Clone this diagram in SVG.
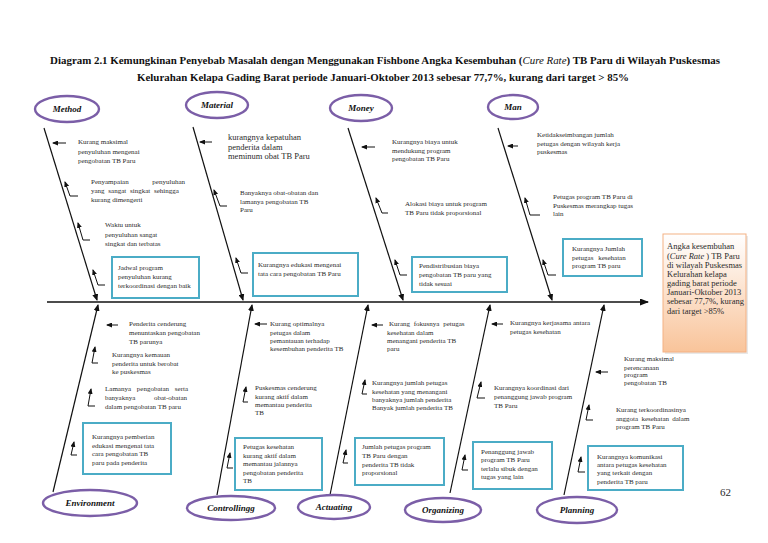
<svg xmlns="http://www.w3.org/2000/svg" width="768" height="543" viewBox="0 0 768 543">
<style>
text{font-family:"Liberation Serif","Times New Roman",serif;fill:#2a2a2a}
.t{font-size:7px}
.m{font-size:8.5px}
.title{font-size:10.9px;font-weight:bold;fill:#111}
.lab{font-size:9px;font-weight:bold;font-style:italic;text-anchor:middle;fill:#111}
.cat{fill:#fff;stroke:#7B5EA7;stroke-width:2.4}
.box{fill:#fff;stroke:#4BACC6;stroke-width:2}
.bone{stroke:#111;stroke-width:1.2;fill:none;marker-end:url(#ah)}
.sub{stroke:#111;stroke-width:1;fill:none;marker-end:url(#ah2)}
</style>
<defs>
<marker id="ah" markerUnits="userSpaceOnUse" markerWidth="7" markerHeight="6" refX="6" refY="3" orient="auto"><path d="M0,0 L7,3 L0,6 z" fill="#111"/></marker>
<marker id="ah2" markerUnits="userSpaceOnUse" markerWidth="6" markerHeight="5" refX="5" refY="2.5" orient="auto"><path d="M0,0 L6,2.5 L0,5 z" fill="#111"/></marker>
<marker id="ah3" markerUnits="userSpaceOnUse" markerWidth="9" markerHeight="7" refX="8" refY="3.5" orient="auto"><path d="M0,0 L9,3.5 L0,7 z" fill="#111"/></marker>
<linearGradient id="og" x1="0" y1="0" x2="0" y2="1"><stop offset="0" stop-color="#ffffff"/><stop offset="1" stop-color="#F9C49A"/></linearGradient>
</defs>
<rect width="768" height="543" fill="#fff"/>
<text class="title" x="385" y="64" text-anchor="middle">Diagram 2.1 Kemungkinan Penyebab Masalah dengan Menggunakan Fishbone Angka Kesembuhan  (<tspan font-style="italic" font-weight="normal">Cure Rate</tspan>) TB Paru di Wilayah Puskesmas</text>
<text class="title" x="383" y="81" text-anchor="middle">Kelurahan Kelapa Gading Barat periode Januari-Oktober 2013 sebesar 77,7%, kurang dari target &gt; 85%</text>

<g id="connectors">
<path d="M47 302 H648" stroke="#111" stroke-width="1.5" fill="none" marker-end="url(#ah3)"/>
<path class="bone" d="M44 128 L97 300"/>
<path class="bone" d="M193 127 L243 300"/>
<path class="bone" d="M348 128 L403 300"/>
<path class="bone" d="M498 128 L552 300"/>
<path class="bone" d="M53 492 L98 305"/>
<path class="bone" d="M217 495 L252 305"/>
<path class="bone" d="M330 495 L368 305"/>
<path class="bone" d="M450 493 L490 305"/>
<path class="bone" d="M564 495 L604 305"/>
<path class="sub" d="M66 143 H53"/>
<path class="sub" d="M212 142 H200"/>
<path class="sub" d="M375 147 H362"/>
<path class="sub" d="M518 146 H508"/>
<path class="sub" d="M118 325 H107"/>
<path class="sub" d="M267 324 H255"/>
<path class="sub" d="M383 325 H372"/>
<path class="sub" d="M503 324 H492"/>
<path class="sub" d="M608 372 H596"/>
<path class="sub" d="M78 196 H70 L65 182"/>
<path class="sub" d="M90 240 H83 L78 223"/>
<path class="sub" d="M105 285 H98 L93 270"/>
<path class="sub" d="M227 206 H220 L214 190"/>
<path class="sub" d="M248 273 H241 L236 258"/>
<path class="sub" d="M388 213 H382 L376 198"/>
<path class="sub" d="M407 275 H400 L395 260"/>
<path class="sub" d="M540 215 H530 L525 198"/>
<path class="sub" d="M556 275 H548 L543 260"/>
<path class="sub" d="M98 363 H92 L95 347"/>
<path class="sub" d="M95 406 H88 L91 389"/>
<path class="sub" d="M77 455 H71 L74 442"/>
<path class="sub" d="M248 402 H243 L246 387"/>
<path class="sub" d="M233 468 H227 L230 453"/>
<path class="sub" d="M367 394 H362 L365 380"/>
<path class="sub" d="M348 463 H343 L346 450"/>
<path class="sub" d="M485 398 H477 L481 382"/>
<path class="sub" d="M468 470 H462 L465 455"/>
<path class="sub" d="M593 420 H586 L589 405"/>
<path class="sub" d="M585 472 H578 L581 457"/>
</g>

<g id="cat-method"><ellipse class="cat" cx="67" cy="109" rx="32" ry="13"/><text class="lab" x="67" y="112">Method</text></g>
<g id="cat-material"><ellipse class="cat" cx="217" cy="105" rx="31" ry="13"/><text class="lab" x="217" y="108">Material</text></g>
<g id="cat-money"><ellipse class="cat" cx="361" cy="108" rx="31" ry="13"/><text class="lab" x="361" y="111">Money</text></g>
<g id="cat-man"><ellipse class="cat" cx="513" cy="107" rx="25" ry="12"/><text class="lab" x="513" y="110">Man</text></g>
<g id="cat-environment"><ellipse class="cat" cx="90" cy="503" rx="47" ry="13"/><text class="lab" x="90" y="506">Environment</text></g>
<g id="cat-controlling"><ellipse class="cat" cx="231" cy="508" rx="44" ry="12"/><text class="lab" x="231" y="511">Controllingg</text></g>
<g id="cat-actuating"><ellipse class="cat" cx="334" cy="507" rx="36" ry="12"/><text class="lab" x="334" y="510">Actuating</text></g>
<g id="cat-organizing"><ellipse class="cat" cx="443" cy="510" rx="38" ry="12"/><text class="lab" x="443" y="513">Organizing</text></g>
<g id="cat-planning"><ellipse class="cat" cx="577" cy="510" rx="40" ry="13"/><text class="lab" x="577" y="513">Planning</text></g>

<g id="effect">
<rect x="665" y="236" width="83" height="118" fill="#d8d8d8" opacity="0.6"/>
<rect x="663" y="234" width="83" height="118" fill="url(#og)" stroke="#F4B183" stroke-width="1"/>
<text class="m" x="667"><tspan x="667" y="249">Angka kesembuhan</tspan><tspan x="667" y="258.5">(<tspan font-style="italic">Cure Rate</tspan> ) TB Paru</tspan><tspan x="667" y="267.5">di wilayah Puskesmas</tspan><tspan x="667" y="276.5">Kelurahan kelapa</tspan><tspan x="667" y="285.5">gading barat  periode</tspan><tspan x="667" y="294.5">Januari-Oktober 2013</tspan><tspan x="667" y="304">sebesar 77,7%, kurang</tspan><tspan x="667" y="313.5">dari target &gt;85%</tspan></text>
</g>

<g id="method-1"><text class="t"><tspan x="78" y="144">Kurang maksimal</tspan><tspan x="78" y="153.5">penyuluhan mengenai</tspan><tspan x="78" y="163">pengobatan TB Paru</tspan></text></g>
<g id="method-2"><text class="t"><tspan x="91" y="184">Penyampaian</tspan> <tspan x="185" y="184" text-anchor="end">penyuluhan</tspan><tspan x="91" y="193" word-spacing="2">yang sangat singkat sehingga</tspan><tspan x="91" y="201.5">kurang dimengerti</tspan></text></g>
<g id="method-3"><text class="t"><tspan x="105" y="227">Waktu untuk</tspan><tspan x="105" y="236.5">penyuluhan sangat</tspan><tspan x="105" y="245.5">singkat dan terbatas</tspan></text></g>
<g id="method-4"><rect class="box" x="112" y="257" width="87" height="41"/><text class="t"><tspan x="118" y="270">Jadwal program</tspan><tspan x="118" y="279">penyuluhan kurang</tspan><tspan x="118" y="288">terkoordinasi dengan baik</tspan></text></g>

<g id="material-1"><text class="m" fill="#333"><tspan x="228" y="140">kurangnya kepatuhan</tspan><tspan x="228" y="149.5">penderita dalam</tspan><tspan x="228" y="159">meminum obat TB Paru</tspan></text></g>
<g id="material-2"><text class="t"><tspan x="240" y="195">Banyaknya obat-obatan dan</tspan><tspan x="240" y="203.5">lamanya pengobatan TB</tspan><tspan x="240" y="212">Paru</tspan></text></g>
<g id="material-3"><rect class="box" x="253" y="253" width="105" height="43"/><text class="t"><tspan x="258" y="267">Kurangnya edukasi mengenai</tspan><tspan x="258" y="275.5">tata cara pengobatan TB Paru</tspan></text></g>

<g id="money-1"><text class="t"><tspan x="392" y="144">Kurangnya biaya untuk</tspan><tspan x="392" y="152.5">mendukung program</tspan><tspan x="392" y="161">pengobatan TB Paru</tspan></text></g>
<g id="money-2"><text class="t"><tspan x="405" y="206">Alokasi biaya untuk program</tspan><tspan x="405" y="215">TB Paru tidak proporsional</tspan></text></g>
<g id="money-3"><rect class="box" x="412" y="257" width="95" height="35"/><text class="t"><tspan x="419" y="268">Pendistribusian biaya</tspan><tspan x="419" y="277">pengobatan TB paru yang</tspan><tspan x="419" y="285.5">tidak sesuai</tspan></text></g>

<g id="man-1"><text class="t"><tspan x="537" y="137">Ketidakseimbangan jumlah</tspan><tspan x="537" y="145.5">petugas dengan wilayah kerja</tspan><tspan x="537" y="154">puskesmas</tspan></text></g>
<g id="man-2"><text class="t"><tspan x="553" y="199">Petugas program TB Paru di</tspan><tspan x="553" y="208">Puskesmas merangkap tugas</tspan><tspan x="553" y="216">lain</tspan></text></g>
<g id="man-3"><rect class="box" x="563" y="239" width="79" height="37"/><text class="t"><tspan x="572" y="251">Kurangnya Jumlah</tspan><tspan x="572" y="259.5" word-spacing="3">petugas kesehatan</tspan><tspan x="572" y="268">program TB paru</tspan></text></g>

<g id="environment-1"><text class="t"><tspan x="129" y="326">Penderita cenderung</tspan><tspan x="129" y="335">menuntaskan pengobatan</tspan><tspan x="129" y="344">TB parunya</tspan></text></g>
<g id="environment-2"><text class="t"><tspan x="112" y="357">Kurangnya kemauan</tspan><tspan x="112" y="365.5">penderita untuk berobat</tspan><tspan x="112" y="374">ke puskesmas</tspan></text></g>
<g id="environment-3"><text class="t"><tspan x="105" y="391" word-spacing="4">Lamanya pengobatan serta</tspan><tspan x="105" y="399.5">banyaknya</tspan> <tspan x="187" y="399.5" text-anchor="end">obat-obatan</tspan><tspan x="105" y="408.5">dalam pengobatan TB paru</tspan></text></g>
<g id="environment-4"><rect class="box" x="83" y="423" width="88" height="51"/><text class="t"><tspan x="92" y="439">Kurangnya pemberian</tspan><tspan x="92" y="447.5">edukasi mengenai tata</tspan><tspan x="92" y="456">cara pengobatan TB</tspan><tspan x="92" y="464.5">paru pada penderita</tspan></text></g>

<g id="controlling-1"><text class="t"><tspan x="270" y="326">Kurang optimalnya</tspan><tspan x="270" y="334.5">petugas dalam</tspan><tspan x="270" y="343">pemantauan terhadap</tspan><tspan x="270" y="351">kesembuhan penderita TB</tspan></text></g>
<g id="controlling-2"><text class="t"><tspan x="255" y="390">Puskesmas cenderung</tspan><tspan x="255" y="398.5">kurang aktif dalam</tspan><tspan x="255" y="407">memantau penderita</tspan><tspan x="255" y="415">TB</tspan></text></g>
<g id="controlling-3"><rect class="box" x="235" y="438" width="87" height="52"/><text class="t"><tspan x="243" y="449">Petugas kesehatan</tspan><tspan x="243" y="457.5">kurang aktif dalam</tspan><tspan x="243" y="466">memantau jalannya</tspan><tspan x="243" y="474.5">pengobatan penderita</tspan><tspan x="243" y="483">TB</tspan></text></g>

<g id="actuating-1"><text class="t"><tspan x="389" y="326" word-spacing="2">Kurang fokusnya petugas</tspan><tspan x="387" y="334.5">kesehatan dalam</tspan><tspan x="387" y="343">menangani penderita TB</tspan><tspan x="387" y="351">paru</tspan></text></g>
<g id="actuating-2"><text class="t"><tspan x="372" y="385">Kurangnya jumlah petugas</tspan><tspan x="372" y="393.5">kesehatan yang menangani</tspan><tspan x="372" y="402">banyaknya jumlah penderita</tspan><tspan x="372" y="410">Banyak jumlah penderita TB</tspan></text></g>
<g id="actuating-3"><rect class="box" x="355" y="438" width="89" height="47"/><text class="t"><tspan x="362" y="449">Jumlah petugas program</tspan><tspan x="362" y="457.5">TB Paru dengan</tspan><tspan x="362" y="466.5">penderita TB tidak</tspan><tspan x="362" y="475">proporsional</tspan></text></g>

<g id="organizing-1"><text class="t"><tspan x="510" y="325">Kurangnya kerjasama antara</tspan><tspan x="510" y="334">petugas kesehatan</tspan></text></g>
<g id="organizing-2"><text class="t"><tspan x="494" y="390">Kurangnya koordinasi dari</tspan><tspan x="494" y="399">penanggung jawab program</tspan><tspan x="494" y="408">TB Paru</tspan></text></g>
<g id="organizing-3"><rect class="box" x="473" y="442" width="79" height="47"/><text class="t"><tspan x="481" y="454">Penanggung jawab</tspan><tspan x="481" y="462">program TB Paru</tspan><tspan x="481" y="470.5">terlalu sibuk dengan</tspan><tspan x="481" y="479">tugas yang lain</tspan></text></g>

<g id="planning-1"><text class="t"><tspan x="624" y="361">Kurang maksimal</tspan><tspan x="624" y="369.5">perencanaan</tspan><tspan x="624" y="377">program</tspan><tspan x="624" y="385">pengobatan TB</tspan></text></g>
<g id="planning-2"><text class="t"><tspan x="616" y="412">Kurang terkoordinasinya</tspan><tspan x="616" y="420.5" word-spacing="1.5">anggota kesehatan dalam</tspan><tspan x="616" y="429">program TB Paru</tspan></text></g>
<g id="planning-3"><rect class="box" x="588" y="446" width="95" height="44"/><text class="t"><tspan x="597" y="459">Kurangnya komunikasi</tspan><tspan x="597" y="467">antara petugas kesehatan</tspan><tspan x="597" y="475">yang terkait dengan</tspan><tspan x="597" y="484">penderita TB paru</tspan></text></g>

<text x="720" y="496" font-size="11" fill="#222">62</text>
</svg>
